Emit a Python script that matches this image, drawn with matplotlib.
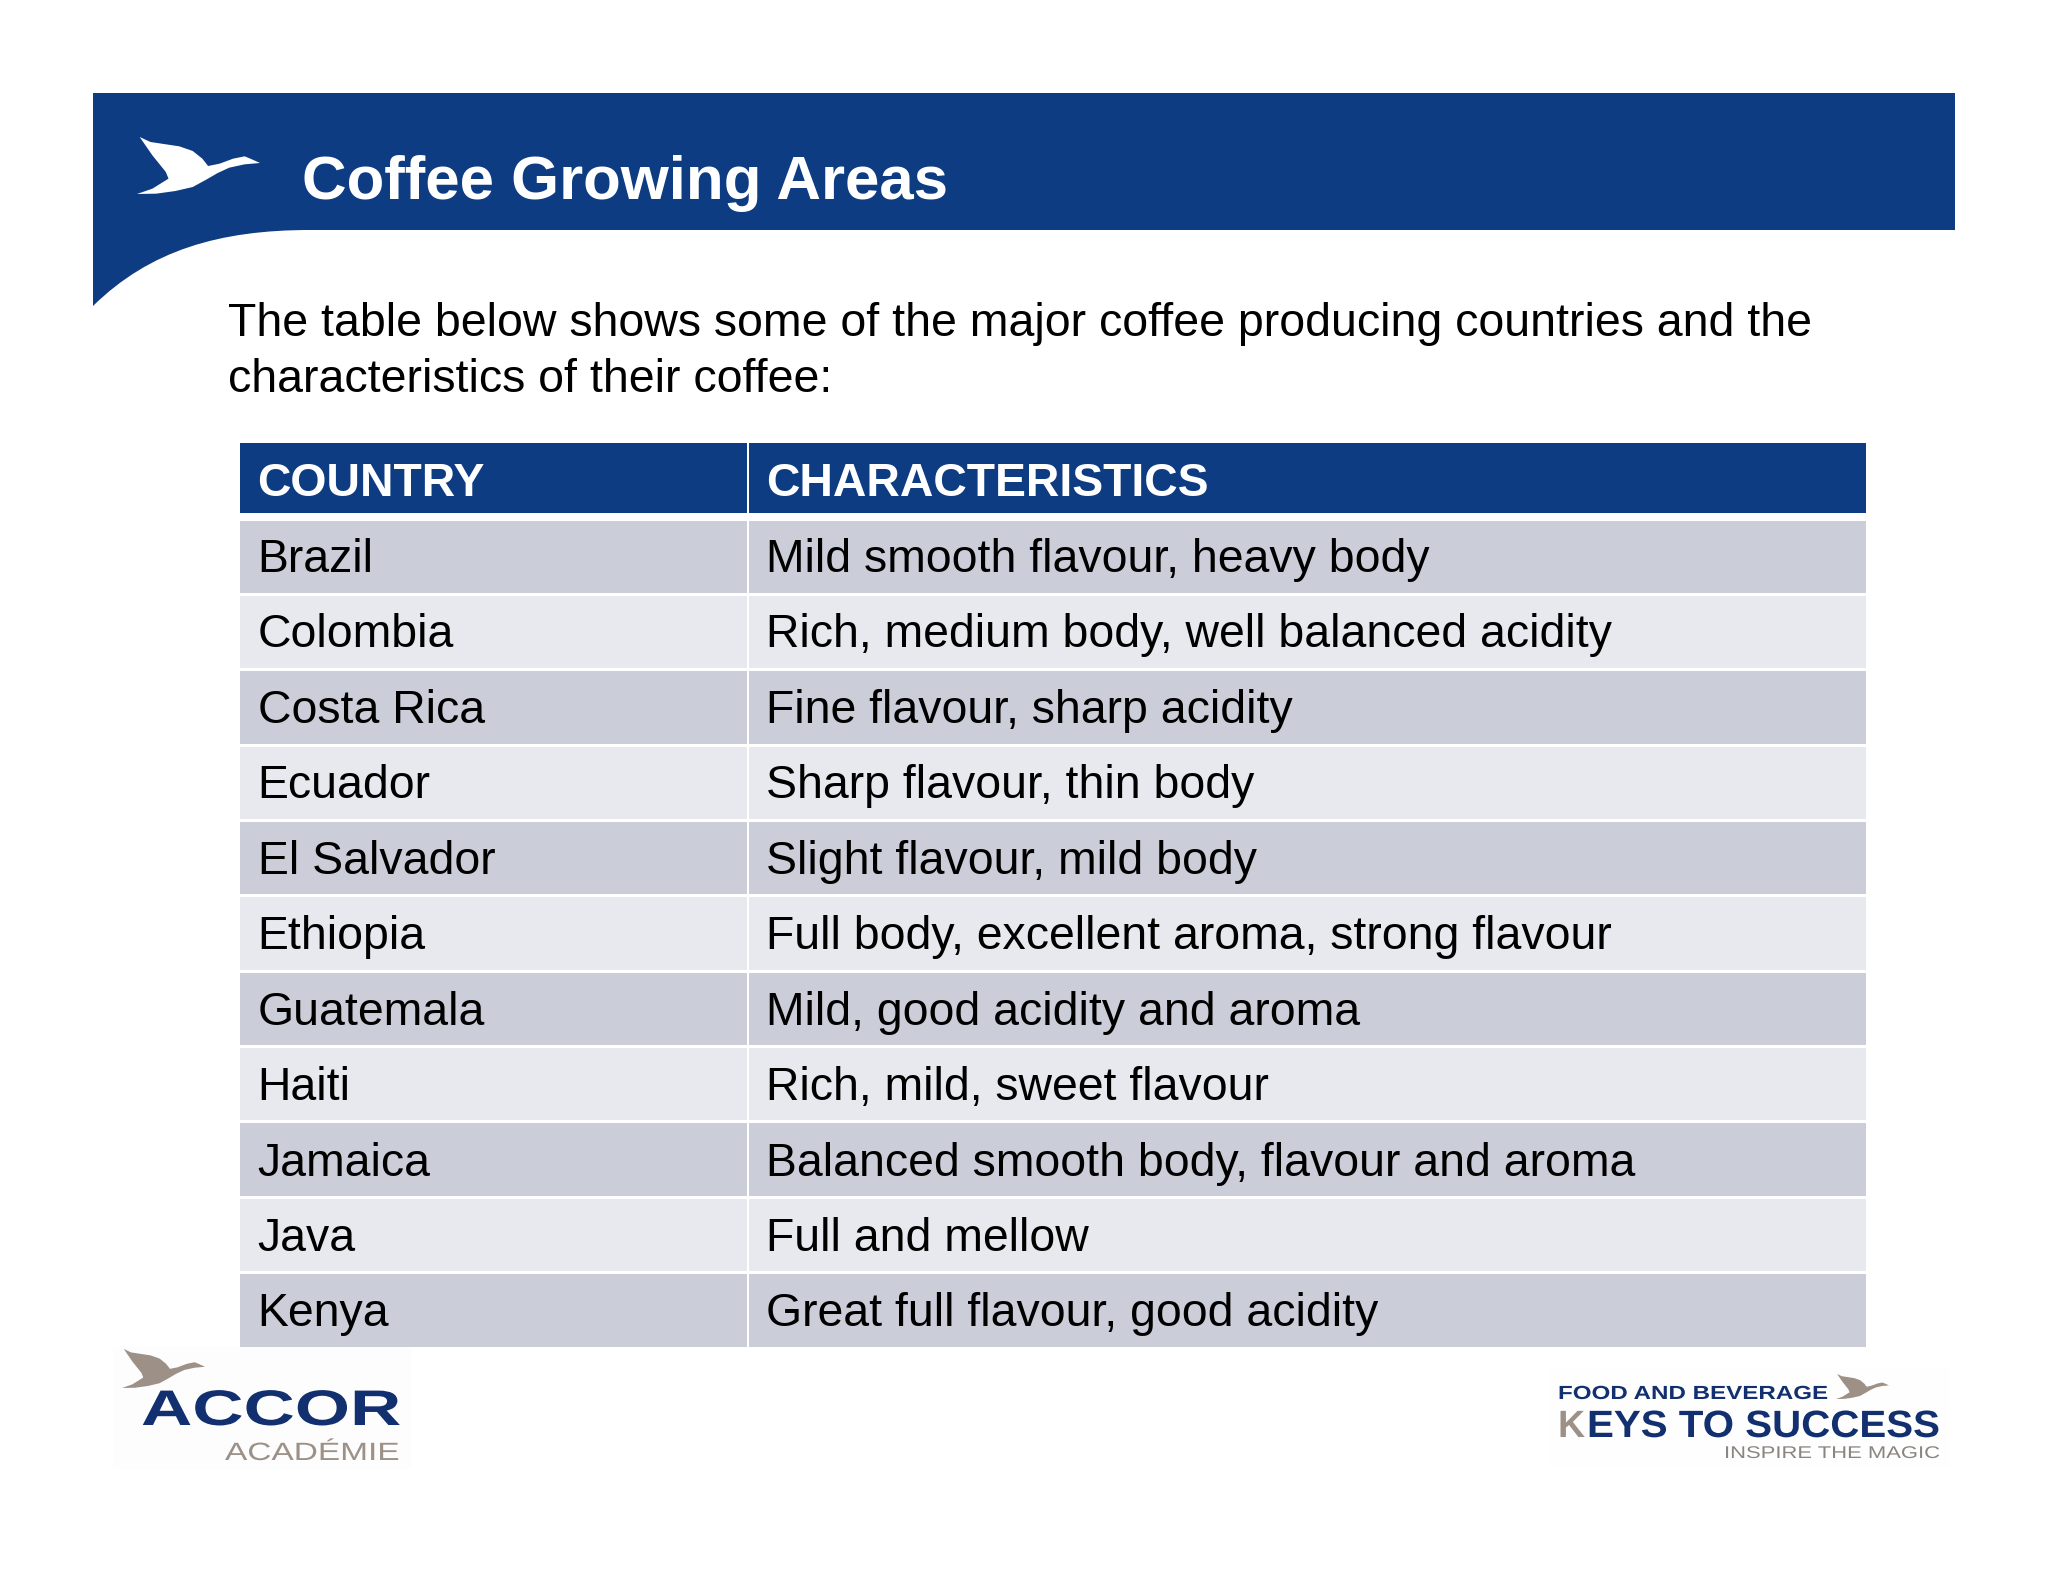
import matplotlib
matplotlib.use('Agg')
import matplotlib.pyplot as plt
from matplotlib.patches import PathPatch, Polygon, Rectangle
from matplotlib.path import Path
from matplotlib.patheffects import AbstractPathEffect
from matplotlib.transforms import Affine2D

plt.rcParams['font.family'] = ['Liberation Sans', 'DejaVu Sans']

TITLE = 'Coffee Growing Areas'
INTRO = ['The table below shows some of the major coffee producing countries and the',
         'characteristics of their coffee:']
HEADERS = ['COUNTRY', 'CHARACTERISTICS']
COUNTRIES = ['Brazil', 'Colombia', 'Costa Rica', 'Ecuador', 'El Salvador', 'Ethiopia',
             'Guatemala', 'Haiti', 'Jamaica', 'Java', 'Kenya']
CHARACTERISTICS = ['Mild smooth flavour, heavy body',
                   'Rich, medium body, well balanced acidity',
                   'Fine flavour, sharp acidity',
                   'Sharp flavour, thin body',
                   'Slight flavour, mild body',
                   'Full body, excellent aroma, strong flavour',
                   'Mild, good acidity and aroma',
                   'Rich, mild, sweet flavour',
                   'Balanced smooth body, flavour and aroma',
                   'Full and mellow',
                   'Great full flavour, good acidity']

NAVY = '#0D3C83'
ROW_DARK = '#CBCED8'
ROW_LIGHT = '#E8E9EE'
LOGO_BLUE = '#12306F'
LOGO_GREY = '#9C9087'

SWAN_X = [157, 185, 260, 295, 320, 335, 365, 400, 430, 445, 470, 430, 390, 360, 330,
          295, 250, 200, 150, 190, 232, 225, 190]
SWAN_Y = [170, 185, 198, 212, 235, 257, 250, 235, 228, 235, 248, 252, 262, 278, 298,
          320, 332, 340, 341, 325, 295, 275, 225]


def px(size):
    # font size in pixels to points at dpi 100
    return size * 72 / 100


class Stretch(AbstractPathEffect):
    # widen a text horizontally, the logos use an extended typeface
    def __init__(self, sx):
        super().__init__()
        self.sx = sx

    def draw_path(self, renderer, gc, tpath, affine, rgbFace=None):
        renderer.draw_path(gc, tpath, Affine2D().scale(self.sx, 1) + affine, rgbFace)


def draw_swan(ax, x0, x1, y0, y1, color):
    sx = (x1 - x0) / (max(SWAN_X) - min(SWAN_X))
    sy = (y1 - y0) / (max(SWAN_Y) - min(SWAN_Y))
    pts = [(x0 + (a - min(SWAN_X)) * sx, y0 + (b - min(SWAN_Y)) * sy)
           for a, b in zip(SWAN_X, SWAN_Y)]
    ax.add_patch(Polygon(pts, closed=True, facecolor=color, edgecolor='none'))


def fit_text(ax, s, x0, x1, baseline, size, color, weight='normal'):
    t = ax.text(x0, baseline, s, fontsize=px(size), color=color, fontweight=weight,
                ha='left', va='baseline')
    width = t.get_window_extent(ax.figure.canvas.get_renderer()).width
    t.set_path_effects([Stretch((x1 - x0) / width)])
    return t


fig = plt.figure(figsize=(20.48, 15.82), dpi=100, facecolor='white')
ax = fig.add_axes([0, 0, 1, 1])
ax.set_xlim(0, 2048)
ax.set_ylim(1582, 0)
ax.axis('off')

# ── Banner ───────────────────────────────────────────────────────────────────

banner = Path([(93, 93), (1955, 93), (1955, 230), (310, 230),
               (220, 230), (150, 250), (93, 306), (93, 93)],
              [Path.MOVETO, Path.LINETO, Path.LINETO, Path.LINETO,
               Path.CURVE4, Path.CURVE4, Path.CURVE4, Path.CLOSEPOLY])
ax.add_patch(PathPatch(banner, facecolor=NAVY, edgecolor='none'))
draw_swan(ax, 137, 260, 137, 194, 'white')
ax.text(302, 199, TITLE, fontsize=px(61.7), fontweight='bold', color='white', va='baseline')

for s, y in zip(INTRO, [336, 392]):
    ax.text(228.5, y, s, fontsize=px(46.5), color='black', va='baseline')

# ── Table ────────────────────────────────────────────────────────────────────

left, split, right = 240, 747, 1866
ax.add_patch(Rectangle((left, 443), split - left, 70, facecolor=NAVY, edgecolor='none'))
ax.add_patch(Rectangle((split + 2, 443), right - split - 2, 70, facecolor=NAVY, edgecolor='none'))
ax.text(257, 496, HEADERS[0], fontsize=px(46.4), fontweight='bold', color='white', va='baseline')
ax.text(766, 496, HEADERS[1], fontsize=px(46.4), fontweight='bold', color='white', va='baseline')

for i, (country, text) in enumerate(zip(COUNTRIES, CHARACTERISTICS)):
    top = 520.5 + i * 75.35
    color = ROW_DARK if i % 2 == 0 else ROW_LIGHT
    ax.add_patch(Rectangle((left, top), split - left, 72.5, facecolor=color, edgecolor='none'))
    ax.add_patch(Rectangle((split + 2, top), right - split - 2, 72.5, facecolor=color, edgecolor='none'))
    ax.text(257.5, top + 51.5 + i * 0.1, country, fontsize=px(46.4), color='black', va='baseline')
    ax.text(766.5, top + 51.5 + i * 0.1, text, fontsize=px(46.4), color='black', va='baseline')

# ── Logos ────────────────────────────────────────────────────────────────────

# faint off-white box behind the pasted logos
ax.add_patch(Rectangle((113, 1347), 298, 122, facecolor='#FDFDFE', edgecolor='none', zorder=0))
ax.add_patch(Rectangle((1548, 1368), 402, 100, facecolor='#FEFEFE', edgecolor='none', zorder=0))

draw_swan(ax, 122, 205, 1349, 1388, LOGO_GREY)
fit_text(ax, 'ACCOR', 141, 401, 1425, 50, LOGO_BLUE, 'bold')
fit_text(ax, 'ACADÉMIE', 225, 399, 1460, 25, LOGO_GREY)

draw_swan(ax, 1836, 1889, 1374, 1399, LOGO_GREY)
fit_text(ax, 'FOOD AND BEVERAGE', 1558, 1827, 1399, 19, LOGO_BLUE, 'bold')
fit_text(ax, 'K', 1558, 1585, 1437, 38, LOGO_GREY, 'bold')
fit_text(ax, 'EYS TO SUCCESS', 1587, 1940, 1437, 38, LOGO_BLUE, 'bold')
fit_text(ax, 'INSPIRE THE MAGIC', 1724, 1940, 1458, 17, '#8A8580')

fig.savefig('out.png', dpi=100)
